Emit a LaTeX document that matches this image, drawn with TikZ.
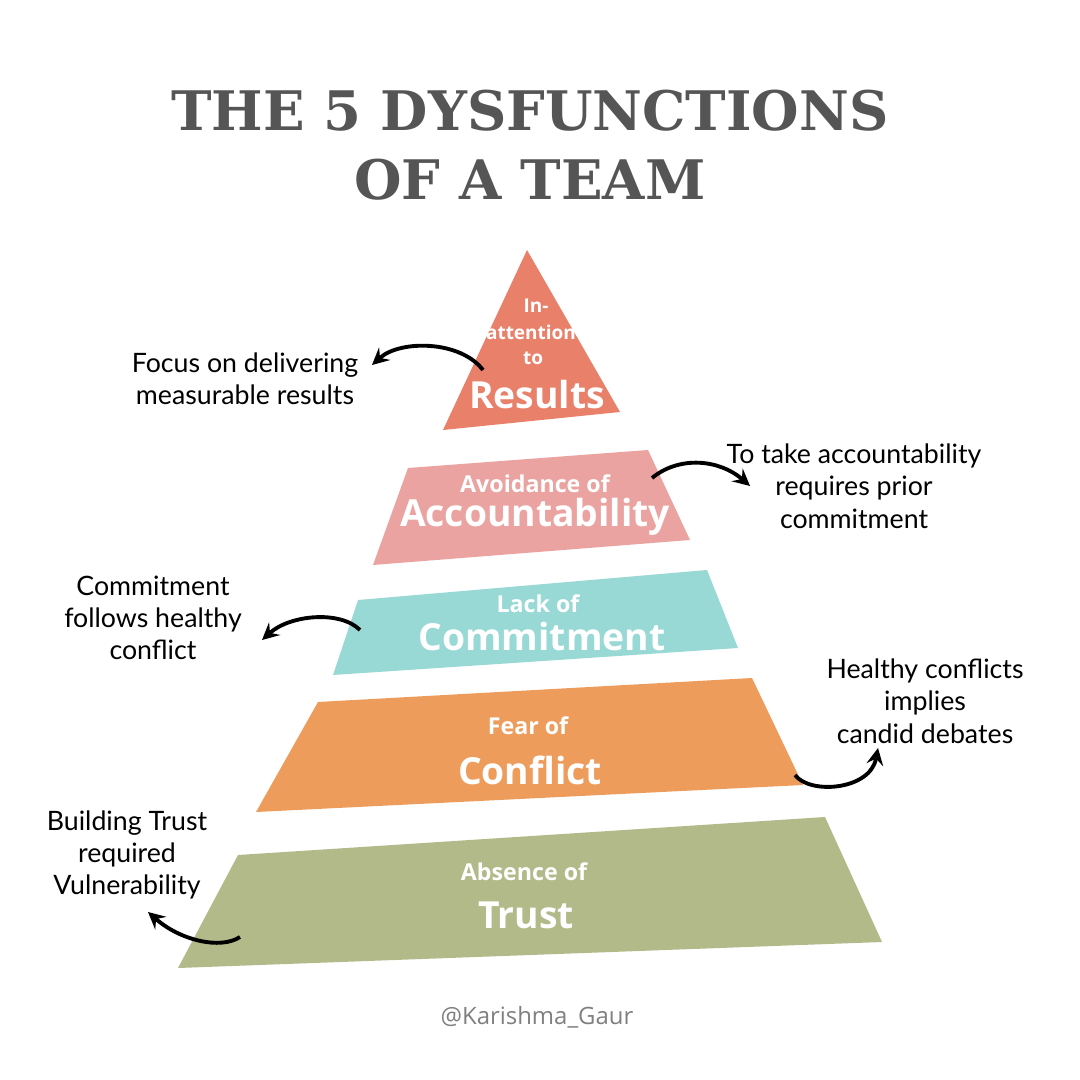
\documentclass[tikz,border=0pt]{standalone}
\usepackage{fontspec}
\setmainfont{Open Sans}
\newfontfamily\titlefont{DejaVu Serif}
\newfontfamily\handfont{Lato}
\usetikzlibrary{positioning,calc}
\definecolor{resultsc}{HTML}{E8806A}
\definecolor{accountc}{HTML}{EAA3A0}
\definecolor{commitc}{HTML}{98D9D6}
\definecolor{conflictc}{HTML}{EE9C5C}
\definecolor{trustc}{HTML}{B2BA8A}
\definecolor{titlec}{HTML}{555555}
\tikzset{
  small/.style={text=white, inner sep=1pt, font=\bfseries\fontsize{6.6}{8}\selectfont},
  tiny/.style={text=white, inner sep=1pt, font=\bfseries\fontsize{5.4}{7}\selectfont},
  big/.style={text=white, inner sep=1pt, font=\bfseries\fontsize{10.6}{12}\selectfont},
  note/.style={align=center, font=\handfont\fontsize{7.6}{9.2}\selectfont},
  bent/.style={line width=1.1pt, -stealth}
}
\begin{document}
\begin{tikzpicture}[x=0.01cm, y=-0.01cm]
  \useasboundingbox[fill=white] (0,0) rectangle (1080,1080);
  % title
  \node (title) [align=center, text=titlec, font=\titlefont\bfseries\fontsize{15.5}{19.5}\selectfont] at (530,145) {THE 5 DYSFUNCTIONS\\OF A TEAM};
  % layers
  \fill[resultsc] (527,250) -- (620,412) -- (443,430) -- cycle;
  \fill[accountc] (408,468) -- (648,450) -- (690,540) -- (373,565) -- cycle;
  \fill[commitc] (358,600) -- (707,570) -- (738,648) -- (333,675) -- cycle;
  \fill[conflictc] (318,702) -- (752,678) -- (803,785) -- (256,812) -- cycle;
  \fill[trustc] (238,855) -- (825,817) -- (882,942) -- (178,968) -- cycle;
  % labels
  \node (in) [tiny] at (536,306) {In-};
  \node (att) [tiny] at (531,332) {attention};
  \node (to) [tiny] at (533,358) {to};
  \node (res) [big] at (537,395) {Results};
  \node (avo) [small] at (535,484) {Avoidance of};
  \node (acc) [big] at (535,517) {Accountability};
  \node (lack) [small] at (538,604) {Lack of};
  \node (com) [big] at (542,637) {Commitment};
  \node (fear) [small] at (528,726) {Fear of};
  \node (con) [big] at (530,770) {Conflict};
  \node (abs) [small] at (524,872) {Absence of};
  \node (tru) [big] at (526,915) {Trust};
  % notes
  \node (n1) [note] at (245,379) {Focus on delivering\\measurable results};
  \node (n2) [note] at (854,486) {To take accountability\\requires prior\\commitment};
  \node (n3) [note] at (153,618) {Commitment\\follows healthy\\conflict};
  \node (n4) [note] at (925,701) {Healthy conflicts\\implies\\candid debates};
  \node (n5) [note] at (127,855) {Building Trust\\required\\Vulnerability};
  \coordinate (a1) at (483,370);
  \coordinate (a2) at (652,478);
  \coordinate (a3) at (360,630);
  \coordinate (a4) at (795,775);
  \coordinate (a5) at (240,937);
  \draw[bent] (a1) .. controls (460,340) and (400,340) .. (372,365);
  \draw[bent] (a2) .. controls (680,455) and (720,460) .. (750,486);
  \draw[bent] (a3) .. controls (340,610) and (290,615) .. (262,640);
  \draw[bent] (a4) .. controls (810,795) and (870,790) .. (878,748);
  \draw[bent] (a5) .. controls (220,950) and (180,940) .. (148,912);
  \node (handle) [text=gray, font=\fontsize{6.8}{8}\selectfont] at (537,1017) {@Karishma\_Gaur};
\end{tikzpicture}
\end{document}
